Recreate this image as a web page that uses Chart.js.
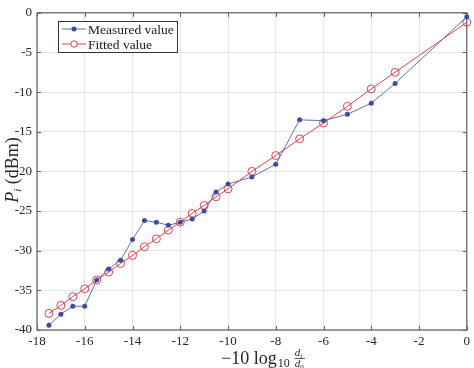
<!DOCTYPE html>
<html>
<head>
<meta charset="utf-8">
<script src="https://cdn.jsdelivr.net/npm/chart.js@4"></script>
<style>
  html, body { margin: 0; padding: 0; background: #fff; }
  #wrap { width: 474px; height: 368px; }
</style>
</head>
<body>
<div id="wrap"><canvas id="chart" width="474" height="368"></canvas></div>
<script>
// values
const distances = [-17.5, -17, -16.5, -16, -15.5, -15, -14.5, -14, -13.5, -13, -12.5, -12,
                   -11.5, -11, -10.5, -10, -9, -8, -7, -6, -5, -4, -3, 0];
const measured = [-39.4, -38.0, -37.0, -37.0, -33.7, -32.3, -31.2, -28.6, -26.2, -26.4, -26.8, -26.4,
                  -26.0, -25.0, -22.6, -21.6, -20.7, -19.1, -13.5, -13.6, -12.8, -11.4, -8.9, -0.5];
const fitted = [-37.9, -36.9, -35.8, -34.8, -33.7, -32.7, -31.6, -30.6, -29.5, -28.5, -27.4, -26.4,
                -25.3, -24.3, -23.2, -22.2, -20.0, -18.0, -15.9, -13.9, -11.8, -9.6, -7.5, -1.2];
const xTicks = [-18, -16, -14, -12, -10, -8, -6, -4, -2, 0];
const yTicks = [-40, -35, -30, -25, -20, -15, -10, -5, 0];

const SERIF = '"Liberation Serif", "DejaVu Serif", serif';
const TEXT = '#262626';

// frame with inward tick marks, drawn under the data
const framePlugin = {
    id: 'frame',
    beforeDatasetsDraw(chart) {
        const ctx = chart.ctx;
        const a = chart.chartArea;
        const xs = chart.scales.x, ys = chart.scales.y;
        ctx.save();
        ctx.strokeStyle = '#5a5a5a';
        ctx.lineWidth = 1;
        ctx.beginPath();
        xTicks.forEach(v => {
            const px = Math.round(xs.getPixelForValue(v)) + 0.5;
            ctx.moveTo(px, a.bottom); ctx.lineTo(px, a.bottom - 4);
            ctx.moveTo(px, a.top); ctx.lineTo(px, a.top + 4);
        });
        yTicks.forEach(v => {
            const py = Math.round(ys.getPixelForValue(v)) + 0.5;
            ctx.moveTo(a.left, py); ctx.lineTo(a.left + 4, py);
            ctx.moveTo(a.right, py); ctx.lineTo(a.right - 4, py);
        });
        ctx.stroke();
        ctx.strokeStyle = '#6b6b6b';
        ctx.lineWidth = 1.3;
        ctx.strokeRect(a.left, a.top, a.right - a.left, a.bottom - a.top);
        ctx.restore();
    }
};

// legend box in the upper left + axis titles with sub/superscripts
const labelsPlugin = {
    id: 'labels',
    afterDraw(chart) {
        const ctx = chart.ctx;
        ctx.save();

        // legend
        const lx = 58, ly = 21, lw = 119, lh = 31;
        ctx.fillStyle = '#fff';
        ctx.fillRect(lx, ly, lw, lh);
        ctx.strokeStyle = '#333';
        ctx.lineWidth = 1;
        ctx.strokeRect(lx + 0.5, ly + 0.5, lw, lh);
        chart.data.datasets.forEach((ds, i) => {
            const y = ly + 8 + i * 15;
            ctx.strokeStyle = ds.borderColor;
            ctx.lineWidth = 1;
            ctx.beginPath();
            ctx.moveTo(lx + 4, y); ctx.lineTo(lx + 28, y);
            ctx.stroke();
            ctx.beginPath();
            ctx.arc(lx + 16, y, Math.min(ds.pointRadius, 3.2), 0, Math.PI * 2);
            if (ds.pointBackgroundColor !== 'rgba(0,0,0,0)') {
                ctx.fillStyle = ds.pointBackgroundColor;
                ctx.fill();
            } else {
                ctx.fillStyle = '#fff';
                ctx.fill();
                ctx.strokeStyle = ds.pointBorderColor;
                ctx.stroke();
            }
            ctx.fillStyle = '#1a1a1a';
            ctx.font = '13.5px ' + SERIF;
            ctx.textBaseline = 'middle';
            ctx.textAlign = 'left';
            ctx.fillText(ds.label, lx + 30, y + 1);
        });

        // y title: P_i (dBm)
        ctx.fillStyle = TEXT;
        ctx.textBaseline = 'alphabetic';
        ctx.translate(18, 170);
        ctx.rotate(-Math.PI / 2);
        ctx.font = 'italic 18px ' + SERIF;
        const pw = ctx.measureText('P').width;
        const iw = (() => { ctx.font = 'italic 11px ' + SERIF; return ctx.measureText('i').width; })();
        ctx.font = '18px ' + SERIF;
        const rest = ' (dBm)';
        const rw = ctx.measureText(rest).width;
        let x0 = -(pw + iw + rw) / 2;
        ctx.font = 'italic 18px ' + SERIF;
        ctx.fillText('P', x0, 0);
        ctx.font = 'italic 11px ' + SERIF;
        ctx.fillText('i', x0 + pw, 3);
        ctx.font = '18px ' + SERIF;
        ctx.fillText(rest, x0 + pw + iw, 0);
        ctx.setTransform(1, 0, 0, 1, 0, 0);

        // x title: -10 log10 (d_i / d_0)
        let x = 221;
        const base = 364;
        ctx.font = '18px ' + SERIF;
        ctx.fillText('\u221210 log', x, base);
        x += ctx.measureText('\u221210 log').width + 1;
        ctx.font = '12px ' + SERIF;
        ctx.fillText('10', x, base + 3);
        x += ctx.measureText('10').width + 5;
        ctx.font = 'italic 11px ' + SERIF;
        ctx.fillText('d', x, base - 8);
        ctx.fillText('d', x, base + 3);
        const dw = ctx.measureText('d').width;
        ctx.font = 'italic 7px ' + SERIF;
        ctx.fillText('i', x + dw, base - 6);
        ctx.font = '7px ' + SERIF;
        ctx.fillText('0', x + dw, base + 5);
        ctx.strokeStyle = TEXT;
        ctx.lineWidth = 0.8;
        ctx.beginPath();
        ctx.moveTo(x, base - 5.5); ctx.lineTo(x + dw + 5, base - 5.5);
        ctx.stroke();

        ctx.restore();
    }
};

const tickFont = { family: SERIF, size: 13 };

new Chart(document.getElementById('chart'), {
    type: 'scatter',
    data: {
        datasets: [
            {
                label: 'Measured value',
                data: distances.map((d, i) => ({ x: d, y: measured[i] })),
                showLine: true,
                borderColor: '#5f6fb3',
                borderWidth: 1,
                pointRadius: 2.5,
                pointStyle: 'circle',
                pointBackgroundColor: '#3d4ca0',
                pointBorderColor: '#3d4ca0',
                pointBorderWidth: 0,
                clip: false
            },
            {
                label: 'Fitted value',
                data: distances.map((d, i) => ({ x: d, y: fitted[i] })),
                showLine: true,
                borderColor: '#e2404e',
                borderWidth: 1,
                pointRadius: 4,
                pointStyle: 'circle',
                pointBackgroundColor: 'rgba(0,0,0,0)',
                pointBorderColor: '#e2404e',
                pointBorderWidth: 1,
                clip: false
            }
        ]
    },
    options: {
        responsive: false,
        animation: false,
        layout: { padding: { top: 6, right: 2, left: 0, bottom: 0 } },
        plugins: {
            legend: { display: false },
            tooltip: { enabled: false }
        },
        scales: {
            x: {
                type: 'linear',
                min: -18,
                max: 0,
                afterBuildTicks: scale => { scale.ticks = xTicks.map(v => ({ value: v })); },
                afterFit: scale => { scale.height = 38; },
                ticks: { font: tickFont, color: TEXT, padding: 4, maxRotation: 0 },
                grid: { color: '#e4e4e4', drawTicks: false },
                border: { display: false }
            },
            y: {
                type: 'linear',
                min: -40,
                max: 0,
                afterBuildTicks: scale => { scale.ticks = yTicks.map(v => ({ value: v })); },
                afterFit: scale => { scale.width = 37; },
                ticks: { font: tickFont, color: TEXT, padding: 5 },
                grid: { color: '#e4e4e4', drawTicks: false },
                border: { display: false }
            }
        }
    },
    plugins: [framePlugin, labelsPlugin]
});
</script>
</body>
</html>
